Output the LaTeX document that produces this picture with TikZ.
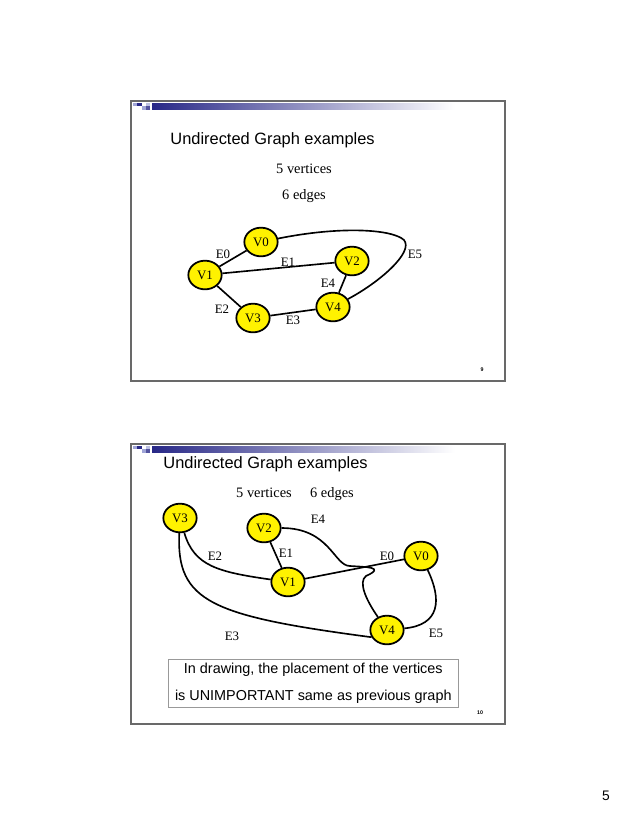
\documentclass[tikz,border=0pt]{standalone}
\usepackage{fontspec}
\setmainfont{Liberation Serif}
\setsansfont{Liberation Sans}
\usetikzlibrary{shapes.geometric}
\definecolor{slidenavy}{RGB}{40,40,135}
\definecolor{slidesky}{RGB}{160,165,215}
\definecolor{framegray}{RGB}{105,105,105}
\begin{document}
\begin{tikzpicture}
[x=0.03cm,y=-0.03cm,thick,%
  vertex/.style={shape=ellipse,draw,line width=1.5pt,fill=yellow,inner sep=0pt,
    minimum width=1.0cm,minimum height=0.86cm,font=\fontsize{11}{11}\selectfont},
  elabel/.style={font=\fontsize{11}{11}\selectfont,inner sep=0pt},
  edge/.style={line width=1.4pt},
  slidetitle/.style={font=\sffamily\fontsize{14}{14}\selectfont,anchor=base west,inner sep=0pt},
  counttext/.style={font=\fontsize{12.3}{12.3}\selectfont,anchor=base,inner sep=0pt},
  slidenum/.style={font=\sffamily\bfseries\fontsize{4.5}{4.5}\selectfont,inner sep=0pt}]
\useasboundingbox[fill=white] (0,0) rectangle (638,826);

% slide frames and header bars
\foreach \dy in {0,343} {
  \shade[left color=slidenavy,right color=white,shading angle=90]
    (152,{103+\dy}) rectangle (455,{109+\dy});
  \fill[slidesky] (133,{103+\dy}) rectangle (137,{106+\dy});
  \fill[slidenavy] (137,{103+\dy}) rectangle (142,{106+\dy});
  \fill[slidesky] (142,{106+\dy}) rectangle (146,{110+\dy});
  \fill[slidesky!70] (146,{103+\dy}) rectangle (150,{106+\dy});
  \fill[slidenavy!80] (146,{106+\dy}) rectangle (150,{110+\dy});
  \draw[framegray,line width=1.4pt] (131,{101+\dy}) rectangle (505,{381+\dy});
}

% first slide
\node[slidetitle] (title1) at (170,144) {Undirected Graph examples};
\node[counttext] (verts1) at (304,173) {5 vertices};
\node[counttext] (edges1) at (304,199) {6 edges};

\node[vertex] (v0) at (261,242) {V0};
\node[vertex] (v1) at (205,275) {V1};
\node[vertex] (v2) at (352,261) {V2};
\node[vertex] (v3) at (253,318) {V3};
\node[vertex] (v4) at (333,307) {V4};

\draw[edge] (v0) -- (v1);
\draw[edge] (v1) -- (v2);
\draw[edge] (v1) -- (v3);
\draw[edge] (v3) -- (v4);
\draw[edge] (v2) -- (v4);
\draw[edge] (v0) .. controls (340,226) and (392,229) .. (404,240)
  .. controls (414,252) and (380,282) .. (v4);

\node[elabel] (e0) at (223,254) {E0};
\node[elabel] (e1) at (288,262) {E1};
\node[elabel] (e2) at (222,309) {E2};
\node[elabel] (e3) at (293,320) {E3};
\node[elabel] (e4) at (328,283) {E4};
\node[elabel] (e5) at (415,254) {E5};

\node[slidenum] (num1) at (482,370) {9};

% second slide
\node[slidetitle] (title2) at (163,468) {Undirected Graph examples};
\node[counttext] (verts2) at (264,497) {5 vertices};
\node[counttext] (edges2) at (332,497) {6 edges};

\node[vertex] (w3) at (180,518) {V3};
\node[vertex] (w2) at (264,528) {V2};
\node[vertex] (w1) at (288,582) {V1};
\node[vertex] (w0) at (421,556) {V0};
\node[vertex] (w4) at (387,630) {V4};

\draw[edge] (w3) .. controls (194,566) and (218,572) .. (w1);
\draw[edge] (w2) -- (w1);
\draw[edge] (w3) .. controls (176,602) and (212,616) .. (w4.205);
\draw[edge] (w1) -- (w0);
\draw[edge] (w0) .. controls (442,600) and (440,625) .. (w4);
\draw[edge] (w2) .. controls (330,528) and (334,566) .. (350,566)
  .. controls (366,567) and (386,567) .. (366,576)
  .. controls (358,582) and (366,600) .. (w4);

\node[elabel] (f4) at (318,519) {E4};
\node[elabel] (f2) at (215,556) {E2};
\node[elabel] (f1) at (286,553) {E1};
\node[elabel] (f0) at (387,556) {E0};
\node[elabel] (f3) at (232,636) {E3};
\node[elabel] (f5) at (436,633) {E5};

\node[draw=gray!80,line width=0.6pt,minimum width=8.7cm,minimum height=1.45cm,
  inner sep=0pt,align=center,font=\sffamily\fontsize{12.3}{22.7}\selectfont]
  (note) at (313.3,683.5) {In drawing, the placement of the vertices\\
  is UNIMPORTANT same as previous graph};

\node[slidenum] (num2) at (480,713) {10};

\node[font=\sffamily\fontsize{11.8}{11.8}\selectfont,inner sep=0pt] (page) at (606,796) {5};
\end{tikzpicture}
\end{document}
